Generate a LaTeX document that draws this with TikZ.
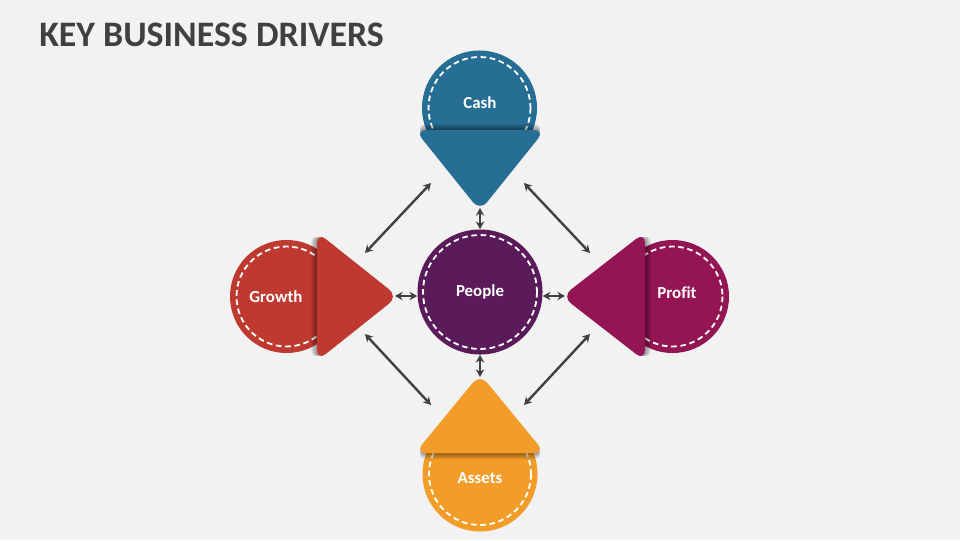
\documentclass[tikz,border=0pt]{standalone}
\usepackage{fontspec}
\setmainfont{Carlito}[Ligatures=NoCommon]
\usetikzlibrary{arrows.meta}
\definecolor{paper}{RGB}{242,242,242}
\definecolor{ink}{RGB}{64,64,64}
\definecolor{cashblue}{RGB}{38,110,147}
\definecolor{growthred}{RGB}{190,58,49}
\definecolor{profitplum}{RGB}{147,21,83}
\definecolor{peoplepurple}{RGB}{91,26,90}
\definecolor{assetsorange}{RGB}{242,157,41}
\begin{document}
\begin{tikzpicture}[x=0.025cm,y=-0.025cm,>={Stealth[length=5.5pt,width=6pt]},
    driver/.style={circle,inner sep=0pt,minimum size=#1},
    ring/.style={draw=white,line width=1.3pt,dash pattern=on 4pt off 2.6pt},
    drivertext/.style={text=white,inner sep=0pt,font=\fontsize{12}{14}\selectfont\bfseries},
    link/.style={<->,draw=ink,line width=1.7pt},
    shadowcopy/.style={fill=black,opacity=.07},
    wedge/.style={rounded corners=8pt}]
    \fill[paper] (0,0) rectangle (960,540);
    \node[anchor=west,inner sep=0pt,text=ink,font=\fontsize{25.5}{30}\selectfont\bfseries]
        (title) at (39,35) {KEY BUSINESS DRIVERS};

    \node[driver=28.75mm,fill=cashblue] (cash) at (479.5,108) {};
    \draw[ring] (cash.center) circle (51);
    \foreach \s in {1,...,6}
        \fill[wedge,shadowcopy,yshift=\s*0.25mm] (415,130) -- (545,130) -- (480,211) -- cycle;
    \fill[wedge,cashblue] (415,130) -- (545,130) -- (480,211) -- cycle;
    \node[drivertext] (cash-label) at (480,103) {Cash};

    \node[driver=28.25mm,fill=growthred] (growth) at (286.5,296.5) {};
    \draw[ring] (growth.center) circle (50);
    \foreach \s in {1,...,6}
        \fill[wedge,shadowcopy,xshift=-\s*0.25mm] (317,232) -- (398,296.5) -- (317,361) -- cycle;
    \fill[wedge,growthred] (317,232) -- (398,296.5) -- (317,361) -- cycle;
    \node[drivertext] (growth-label) at (276,297) {Growth};

    \node[driver=28.25mm,fill=profitplum] (profit) at (672.5,296.5) {};
    \draw[ring] (profit.center) circle (50);
    \foreach \s in {1,...,6}
        \fill[wedge,shadowcopy,xshift=\s*0.25mm] (645,232) -- (562,296.5) -- (645,361) -- cycle;
    \fill[wedge,profitplum] (645,232) -- (562,296.5) -- (645,361) -- cycle;
    \node[drivertext] (profit-label) at (677,293) {Profit};

    \node[driver=28.75mm,fill=assetsorange] (assets) at (480,474) {};
    \draw[ring] (assets.center) circle (51);
    \foreach \s in {1,...,6}
        \fill[wedge,shadowcopy,yshift=-\s*0.25mm] (415,453) -- (480,374) -- (545,453) -- cycle;
    \fill[wedge,assetsorange] (415,453) -- (480,374) -- (545,453) -- cycle;
    \node[drivertext] (assets-label) at (480,478) {Assets};

    \node[driver=31.25mm,fill=peoplepurple] (people) at (480,292) {};
    \draw[ring] (people.center) circle (57);
    \node[drivertext] (people-label) at (480,292) {People};

    \coordinate (cash-tip) at (480,208);
    \coordinate (assets-tip) at (480,377);
    \coordinate (growth-tip) at (395,296);
    \coordinate (profit-tip) at (565,296);
    \coordinate (cash-sw) at (431,183);
    \coordinate (cash-se) at (524,183);
    \coordinate (growth-ne) at (365,253);
    \coordinate (growth-se) at (365,334);
    \coordinate (profit-nw) at (590,253);
    \coordinate (profit-sw) at (590,334);
    \coordinate (assets-nw) at (431,405);
    \coordinate (assets-ne) at (524,405);

    \draw[link] (cash-tip) -- (people.north);
    \draw[link] (people.south) -- (assets-tip);
    \draw[link] (growth-tip) -- (growth-tip -| people.west);
    \draw[link] (profit-tip) -- (profit-tip -| people.east);
    \draw[link] (growth-ne) -- (cash-sw);
    \draw[link] (cash-se) -- (profit-nw);
    \draw[link] (growth-se) -- (assets-nw);
    \draw[link] (profit-sw) -- (assets-ne);
\end{tikzpicture}
\end{document}
